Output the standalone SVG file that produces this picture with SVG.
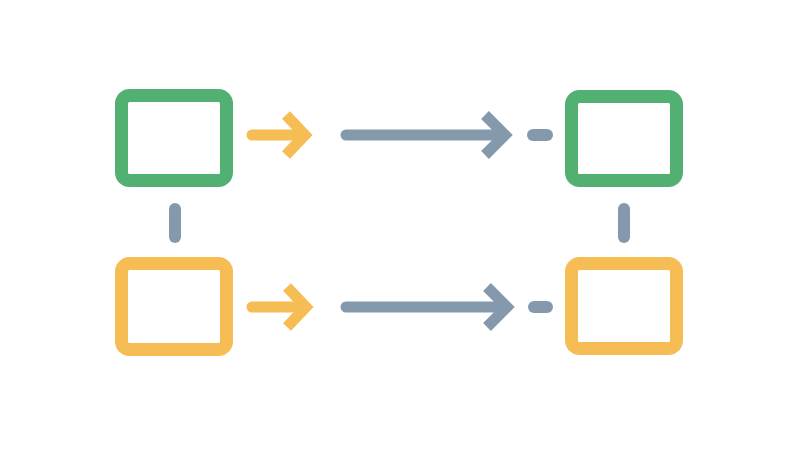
<svg xmlns="http://www.w3.org/2000/svg" width="800" height="450" viewBox="0 0 800 450">
  <style>
    .box { fill: none; stroke-width: 13; stroke-linejoin: round; }
    .green { stroke: #52b073; }
    .yellow { stroke: #f6bd55; }
    .gray { stroke: #8599ac; }
    .shaft { fill: none; stroke-width: 11; stroke-linecap: round; }
    .head { fill: none; stroke-width: 11; stroke-linejoin: miter; stroke-linecap: butt; }
    .dash { fill: none; stroke-width: 12; stroke-linecap: round; }
  </style>
  <rect width="800" height="450" fill="#ffffff"/>
  <g id="node-top-left">
    <rect class="box green" x="121.5" y="95.5" width="105" height="85" rx="8"/>
  </g>
  <g id="node-top-right">
    <rect class="box green" x="571.5" y="96.5" width="105" height="84" rx="8"/>
  </g>
  <g id="node-bottom-left">
    <rect class="box yellow" x="121.5" y="263.5" width="105" height="86" rx="8"/>
  </g>
  <g id="node-bottom-right">
    <rect class="box yellow" x="571.5" y="263.5" width="105" height="85" rx="8"/>
  </g>
  <g id="connectors">
    <!-- top row -->
    <line class="shaft yellow" x1="252" y1="135" x2="302" y2="135"/>
    <polyline class="head yellow" points="286,115 305,135 286,155"/>
    <line class="shaft gray" x1="346" y1="135" x2="502" y2="135"/>
    <polyline class="head gray" points="485,115 505,135 485,155"/>
    <line class="dash gray" x1="533" y1="135" x2="547" y2="135"/>
    <!-- bottom row -->
    <line class="shaft yellow" x1="252" y1="307" x2="302" y2="307"/>
    <polyline class="head yellow" points="287,287 306,307 287,327"/>
    <line class="shaft gray" x1="346" y1="307" x2="502" y2="307"/>
    <polyline class="head gray" points="487,287 507,307 487,327"/>
    <line class="dash gray" x1="534" y1="307" x2="547" y2="307"/>
    <!-- vertical -->
    <line class="dash gray" x1="175" y1="209" x2="175" y2="237"/>
    <line class="dash gray" x1="624" y1="209" x2="624" y2="237"/>
  </g>
</svg>
